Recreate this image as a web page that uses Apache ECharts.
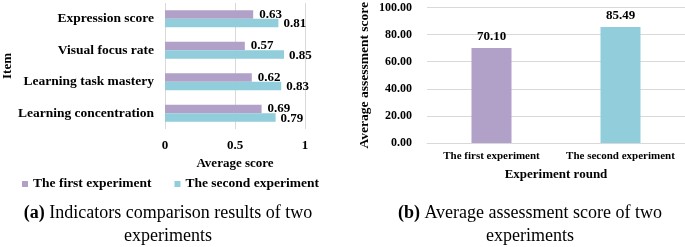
<!DOCTYPE html>
<html><head><meta charset="utf-8">
<script src="https://cdn.jsdelivr.net/npm/echarts@6/dist/echarts.min.js"></script>
<style>html,body{margin:0;padding:0;background:#fff}#c{width:685px;height:247px}</style>
</head><body><div id="c"></div>
<script>
var items = ['Learning concentration', 'Learning task mastery', 'Visual focus rate', 'Expression score'];
var firstScores = [0.69, 0.62, 0.57, 0.63];
var secondScores = [0.79, 0.83, 0.85, 0.81];
var xTicks = [0, 0.5, 1];
var rounds = ['The first experiment', 'The second experiment'];
var avgScores = [70.10, 85.49];
var yTicks = [0, 20, 40, 60, 80, 100];
var seriesNames = ['The first experiment', 'The second experiment'];

var PURPLE = '#B1A0C7', CYAN = '#92CDDC';
var F = "'Liberation Serif', 'Times New Roman', serif";
var capRich = {
  b: {fontFamily: F, fontWeight: 'bold', fontSize: 18, color: '#000', lineHeight: 23},
  n: {fontFamily: F, fontWeight: 'normal', fontSize: 18, color: '#000', lineHeight: 23}
};
var chart = echarts.init(document.getElementById('c'), null, {renderer: 'canvas'});
chart.setOption({
  animation: false,
  textStyle: {fontFamily: F},
  title: [
    {text: '{b|(a)}{n| Indicators comparison results of two}\n{n|experiments}', left: 168, top: 202, textAlign: 'center', padding: 0,
     textStyle: {fontFamily: F, fontWeight: 'normal', fontSize: 18, rich: capRich}},
    {text: '{b|(b)}{n| Average assessment score of two}\n{n|experiments}', left: 530, top: 202, textAlign: 'center', padding: 0,
     textStyle: {fontFamily: F, fontWeight: 'normal', fontSize: 18, rich: capRich}}
  ],
  legend: {
    data: seriesNames, left: 22, top: 177, itemWidth: 6, itemHeight: 6, itemGap: 23, icon: 'rect', padding: 0,
    textStyle: {fontFamily: F, fontWeight: 'bold', fontSize: 13.5, color: '#000'}
  },
  grid: [
    {left: 163, width: 142, top: 3, height: 126, containLabel: false},
    {left: 427, right: 0, top: 7, height: 136, containLabel: false}
  ],
  xAxis: [
    {gridIndex: 0, type: 'value', min: 0, max: 1, interval: 0.5,
     name: 'Average score', nameLocation: 'middle', nameGap: 28,
     nameTextStyle: {fontFamily: F, fontWeight: 'bold', fontSize: 13, color: '#000'},
     axisLine: {show: false}, axisTick: {show: false},
     splitLine: {lineStyle: {color: '#d9d9d9'}},
     axisLabel: {fontFamily: F, fontWeight: 'bold', fontSize: 13, color: '#000', margin: 10,
       formatter: function (v) { return xTicks.indexOf(v) >= 0 ? String(v) : ''; }}},
    {gridIndex: 1, type: 'category', data: rounds,
     name: 'Experiment round', nameLocation: 'middle', nameGap: 25,
     nameTextStyle: {fontFamily: F, fontWeight: 'bold', fontSize: 13, color: '#000'},
     axisLine: {lineStyle: {color: '#d9d9d9'}}, axisTick: {show: false},
     axisLabel: {interval: 0, hideOverlap: false, fontFamily: F, fontWeight: 'bold', fontSize: 11, color: '#000', margin: 8}}
  ],
  yAxis: [
    {gridIndex: 0, type: 'category', data: items,
     name: 'Item', nameLocation: 'middle', nameGap: 150,
     nameTextStyle: {fontFamily: F, fontWeight: 'bold', fontSize: 13, color: '#000'},
     axisLine: {show: false}, axisTick: {show: false},
     axisLabel: {fontFamily: F, fontWeight: 'bold', fontSize: 13.5, color: '#000', margin: 11}},
    {gridIndex: 1, type: 'value', min: 0, max: 100, interval: 20,
     name: 'Average assessment score', nameLocation: 'middle', nameGap: 55,
     nameTextStyle: {fontFamily: F, fontWeight: 'bold', fontSize: 13.5, color: '#000'},
     axisLine: {show: false}, axisTick: {show: false},
     splitLine: {lineStyle: {color: '#d9d9d9'}},
     axisLabel: {fontFamily: F, fontWeight: 'bold', fontSize: 12, color: '#000', margin: 15,
       formatter: function (v) { return yTicks.indexOf(v) >= 0 ? v.toFixed(2) : ''; }}}
  ],
  series: [
    {name: seriesNames[0], type: 'bar', xAxisIndex: 0, yAxisIndex: 0, data: firstScores,
     itemStyle: {color: PURPLE}, barGap: '0%', barCategoryGap: '46%',
     label: {show: true, position: 'right', distance: 6, offset: [0, 0], fontFamily: F, fontWeight: 'bold', fontSize: 13, color: '#000', formatter: function (p) { return p.value.toFixed(2); }}},
    {name: seriesNames[1], type: 'bar', xAxisIndex: 0, yAxisIndex: 0, data: secondScores,
     itemStyle: {color: CYAN}, barGap: '0%', barCategoryGap: '46%',
     label: {show: true, position: 'right', distance: 5, offset: [0, 1], fontFamily: F, fontWeight: 'bold', fontSize: 13, color: '#000', formatter: function (p) { return p.value.toFixed(2); }}},
    {name: 'avg', type: 'bar', xAxisIndex: 1, yAxisIndex: 1,
     data: avgScores.map(function (v, i) { return {value: v, itemStyle: {color: i === 0 ? PURPLE : CYAN}}; }),
     barWidth: 40,
     label: {show: true, position: 'top', distance: 5, fontFamily: F, fontWeight: 'bold', fontSize: 13, color: '#000', formatter: function (p) { return p.value.toFixed(2); }}}
  ]
});
</script></body></html>
